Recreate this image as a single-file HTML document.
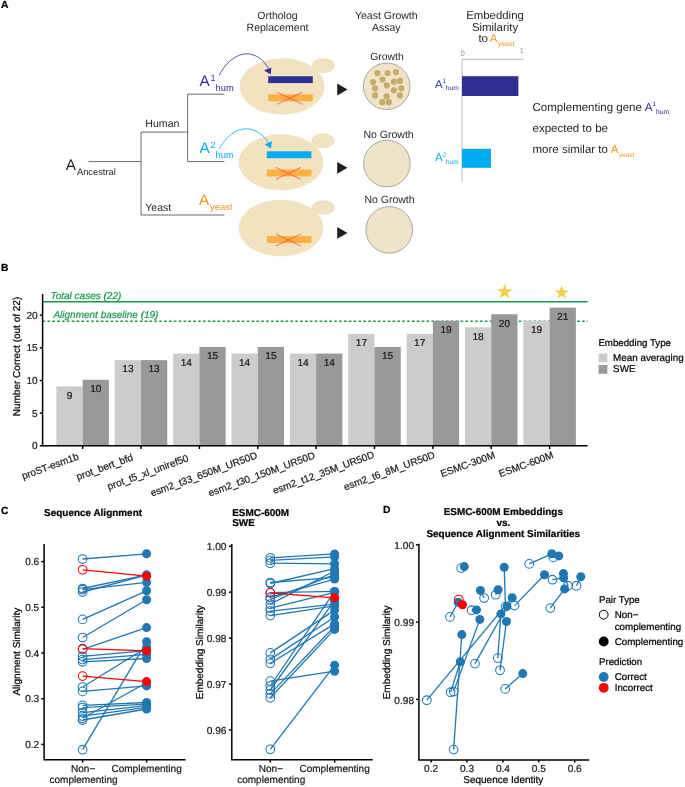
<!DOCTYPE html>
<html lang="en"><head><meta charset="utf-8"><title>Figure</title>
<style>html,body{margin:0;padding:0;background:#fff}svg{display:block}text{font-family:"Liberation Sans", sans-serif;text-rendering:geometricPrecision;stroke-width:0.22px}</style>
</head><body>
<svg width="685" height="787" viewBox="0 0 685 787">
<rect width="685" height="787" fill="#fff"/>
<text x="0.9" y="7.7" font-size="10.3" font-weight="bold" fill="#000" stroke="#000">A</text>
<text x="1.1" y="271.2" font-size="10.3" font-weight="bold" fill="#000" stroke="#000">B</text>
<text x="1.0" y="513.6" font-size="10.3" font-weight="bold" fill="#000" stroke="#000">C</text>
<text x="383.0" y="513.4" font-size="10.3" font-weight="bold" fill="#000" stroke="#000">D</text>
<g id="panelA">
<path d="M88.6 161.6H141M141 132.1V215M141 132.1H187.6M187.6 94.2V161.6M187.6 94.2H224.4M187.6 161.6H224.4M141 215H224.4" stroke="#58595b" stroke-width="0.9" fill="none"/>
<text x="65.8" y="169.5" font-size="15.3" fill="#231f20">A</text>
<text x="77" y="174.5" font-size="9.3" fill="#231f20">Ancestral</text>
<text x="145.3" y="127.4" font-size="10.6" fill="#231f20">Human</text>
<text x="145.3" y="211" font-size="10.5" fill="#231f20">Yeast</text>
<text x="199.6" y="86.3" font-size="15.3" fill="#2e3192">A</text>
<text x="210.6" y="81.2" font-size="9" fill="#2e3192">1</text>
<text x="215.6" y="91" font-size="9.3" fill="#2e3192">hum</text>
<text x="199.6" y="153.4" font-size="15.3" fill="#00aeef">A</text>
<text x="210.6" y="148.3" font-size="9" fill="#00aeef">2</text>
<text x="215.6" y="158" font-size="9.3" fill="#00aeef">hum</text>
<text x="199" y="205.4" font-size="15.3" fill="#f7941d">A</text>
<text x="210" y="210" font-size="9.5" fill="#f7941d">yeast</text>
<text x="277.5" y="19.3" font-size="10.5" text-anchor="middle" fill="#231f20">Ortholog</text>
<text x="277.5" y="31.2" font-size="10.5" text-anchor="middle" fill="#231f20">Replacement</text>
<text x="386.3" y="19.3" font-size="10.5" text-anchor="middle" fill="#231f20">Yeast Growth</text>
<text x="386.3" y="31.2" font-size="10.5" text-anchor="middle" fill="#231f20">Assay</text>
<text x="495.0" y="19.3" font-size="11.4" text-anchor="middle" fill="#231f20">Embedding</text>
<text x="495.0" y="31.2" font-size="11.4" text-anchor="middle" fill="#231f20">Similarity</text>
<text x="478.4" y="42.3" font-size="11.4" fill="#231f20">to</text>
<text x="489.8" y="42.3" font-size="11.4" fill="#f7941d">A</text>
<text x="497.7" y="46.1" font-size="7" fill="#f7941d">yeast</text>
<ellipse cx="323.7" cy="65.6" rx="11.5" ry="7.45" fill="#f2e3c0"/>
<ellipse cx="282.1" cy="86.5" rx="42.5" ry="28.2" fill="#f2e3c0"/>
<rect x="268.2" y="76.2" width="44.6" height="6.9" fill="#2e3192"/>
<rect x="268.2" y="94.4" width="44.6" height="6.9" fill="#fbb040"/>
<path d="M277.2 92.3L302.4 104.3M277.2 104.3L302.4 92.3" stroke="#ef4136" stroke-width="0.7" fill="none"/>
<ellipse cx="323.1" cy="140.7" rx="11.5" ry="7.45" fill="#f2e3c0"/>
<ellipse cx="281.0" cy="162.4" rx="42.4" ry="28.1" fill="#f2e3c0"/>
<rect x="266.8" y="151.3" width="44.6" height="6.9" fill="#00aeef"/>
<rect x="266.8" y="169.5" width="44.6" height="6.9" fill="#fbb040"/>
<path d="M275.8 167.4L301.0 179.4M275.8 179.4L301.0 167.4" stroke="#ef4136" stroke-width="0.7" fill="none"/>
<ellipse cx="323.1" cy="207.6" rx="11.5" ry="7.45" fill="#f2e3c0"/>
<ellipse cx="281.0" cy="228.1" rx="42.4" ry="28.4" fill="#f2e3c0"/>
<rect x="266.8" y="236.1" width="44.6" height="6.9" fill="#fbb040"/>
<path d="M275.8 234.0L301.0 246.0M275.8 246.0L301.0 234.0" stroke="#ef4136" stroke-width="0.7" fill="none"/>
<path d="M219.2 75.2C226 62 237 53.6 247 53.8C257 54 264.5 61 268.4 68.6" stroke="#2e3192" stroke-width="0.8" fill="none"/>
<path d="M270.8 74.5L264 70.6L271.3 67.5Z" fill="#2e3192"/>
<path d="M219.2 148.6C226 136.5 236.5 128.6 246.2 128.8C256.5 129 264.3 135.6 268.3 142.8" stroke="#00aeef" stroke-width="0.8" fill="none"/>
<path d="M270.9 148.6L264.8 144.5L271.9 141Z" fill="#00aeef"/>
<path d="M337.2 83.6L347.5 89.5L337.2 95.4Z" fill="#231f20"/>
<path d="M337.2 161.9L347.5 167.8L337.2 173.7Z" fill="#231f20"/>
<path d="M337.2 227.0L347.5 232.9L337.2 238.8Z" fill="#231f20"/>
<text x="387" y="59.8" font-size="10.4" text-anchor="middle" fill="#231f20">Growth</text>
<text x="388.6" y="137.7" font-size="10.5" text-anchor="middle" fill="#231f20">No Growth</text>
<text x="389.5" y="202.6" font-size="10.5" text-anchor="middle" fill="#231f20">No Growth</text>
<circle cx="386.7" cy="86.3" r="23.3" fill="#f0e3c7" stroke="#77787b" stroke-width="0.6"/>
<circle cx="386.9" cy="163.6" r="23.3" fill="#f0e3c7" stroke="#77787b" stroke-width="0.6"/>
<circle cx="389.2" cy="229.9" r="23.3" fill="#f0e3c7" stroke="#77787b" stroke-width="0.6"/>
<circle cx="377.4" cy="73.1" r="3.1" fill="#c4ac6e"/>
<circle cx="387.6" cy="73.0" r="3.1" fill="#c4ac6e"/>
<circle cx="396.0" cy="72.1" r="3.1" fill="#c4ac6e"/>
<circle cx="382.5" cy="79.5" r="3.1" fill="#c4ac6e"/>
<circle cx="373.1" cy="82.1" r="3.1" fill="#c4ac6e"/>
<circle cx="393.9" cy="81.7" r="3.1" fill="#c4ac6e"/>
<circle cx="399.9" cy="80.9" r="3.1" fill="#c4ac6e"/>
<circle cx="386.8" cy="85.4" r="3.1" fill="#c4ac6e"/>
<circle cx="375.0" cy="88.3" r="3.1" fill="#c4ac6e"/>
<circle cx="393.9" cy="90.3" r="3.1" fill="#c4ac6e"/>
<circle cx="401.3" cy="88.3" r="3.1" fill="#c4ac6e"/>
<circle cx="375.0" cy="95.4" r="3.1" fill="#c4ac6e"/>
<circle cx="386.6" cy="96.3" r="3.1" fill="#c4ac6e"/>
<circle cx="399.9" cy="95.4" r="3.1" fill="#c4ac6e"/>
<circle cx="382.2" cy="102.2" r="3.1" fill="#c4ac6e"/>
<circle cx="388.8" cy="102.2" r="3.1" fill="#c4ac6e"/>
<path d="M462 182.1V59.3H524" stroke="#a0a2a5" stroke-width="0.75" fill="none"/>
<text x="460.6" y="55.9" font-size="7.8" fill="#939598">0</text>
<text x="519.4" y="53.4" font-size="7.8" fill="#939598">1</text>
<rect x="462" y="76.2" width="56.4" height="19.8" fill="#2e3192"/>
<rect x="462" y="148.8" width="29" height="19" fill="#00aeef"/>
<text x="434.9" y="87.6" font-size="11.4" fill="#2e3192">A</text>
<text x="442.6" y="83.4" font-size="6.6" fill="#2e3192">1</text>
<text x="445.7" y="90" font-size="6.7" fill="#2e3192">hum</text>
<text x="434.9" y="161.1" font-size="11.4" fill="#00aeef">A</text>
<text x="442.6" y="156.9" font-size="6.6" fill="#00aeef">2</text>
<text x="445.7" y="164.3" font-size="6.7" fill="#00aeef">hum</text>
<text x="532.5" y="110.7" font-size="11.5" fill="#231f20">Complementing gene</text>
<text x="644.8" y="110.7" font-size="11.5" fill="#2e3192">A</text>
<text x="652.6" y="106.2" font-size="6.6" fill="#2e3192">1</text>
<text x="656" y="113.8" font-size="6.8" fill="#2e3192">hum</text>
<text x="532.5" y="131.9" font-size="11.5" fill="#231f20">expected to be</text>
<text x="532.5" y="152.9" font-size="11.5" fill="#231f20">more similar to</text>
<text x="610.8" y="152.9" font-size="11.5" fill="#f7941d">A</text>
<text x="618.7" y="156.9" font-size="6.6" fill="#f7941d">yeast</text>
</g>
<g id="panelB">
<path d="M42.6 301.7H587.6" stroke="#1a9a4c" stroke-width="1.5" fill="none"/>
<path d="M42.6 321.2H587.6" stroke="#1a9a4c" stroke-width="1.5" stroke-dasharray="2.6 2.26" fill="none"/>
<rect x="56.40" y="386.37" width="26.25" height="59.43" fill="#cccccc"/>
<text x="69.5" y="398.7" font-size="10.1" text-anchor="middle" fill="#1a1a1a" stroke="#1a1a1a">9</text>
<rect x="82.65" y="379.81" width="26.25" height="65.99" fill="#999999"/>
<text x="95.8" y="392.1" font-size="10.1" text-anchor="middle" fill="#1a1a1a" stroke="#1a1a1a">10</text>
<rect x="114.77" y="360.13" width="26.25" height="85.67" fill="#cccccc"/>
<text x="127.9" y="372.4" font-size="10.1" text-anchor="middle" fill="#1a1a1a" stroke="#1a1a1a">13</text>
<rect x="141.02" y="360.13" width="26.25" height="85.67" fill="#999999"/>
<text x="154.1" y="372.4" font-size="10.1" text-anchor="middle" fill="#1a1a1a" stroke="#1a1a1a">13</text>
<rect x="173.14" y="353.57" width="26.25" height="92.23" fill="#cccccc"/>
<text x="186.3" y="365.9" font-size="10.1" text-anchor="middle" fill="#1a1a1a" stroke="#1a1a1a">14</text>
<rect x="199.39" y="347.01" width="26.25" height="98.79" fill="#999999"/>
<text x="212.5" y="359.3" font-size="10.1" text-anchor="middle" fill="#1a1a1a" stroke="#1a1a1a">15</text>
<rect x="231.51" y="353.57" width="26.25" height="92.23" fill="#cccccc"/>
<text x="244.6" y="365.9" font-size="10.1" text-anchor="middle" fill="#1a1a1a" stroke="#1a1a1a">14</text>
<rect x="257.76" y="347.01" width="26.25" height="98.79" fill="#999999"/>
<text x="270.9" y="359.3" font-size="10.1" text-anchor="middle" fill="#1a1a1a" stroke="#1a1a1a">15</text>
<rect x="289.88" y="353.57" width="26.25" height="92.23" fill="#cccccc"/>
<text x="303.0" y="365.9" font-size="10.1" text-anchor="middle" fill="#1a1a1a" stroke="#1a1a1a">14</text>
<rect x="316.13" y="353.57" width="26.25" height="92.23" fill="#999999"/>
<text x="329.3" y="365.9" font-size="10.1" text-anchor="middle" fill="#1a1a1a" stroke="#1a1a1a">14</text>
<rect x="348.25" y="333.90" width="26.25" height="111.90" fill="#cccccc"/>
<text x="361.4" y="346.2" font-size="10.1" text-anchor="middle" fill="#1a1a1a" stroke="#1a1a1a">17</text>
<rect x="374.50" y="347.01" width="26.25" height="98.79" fill="#999999"/>
<text x="387.6" y="359.3" font-size="10.1" text-anchor="middle" fill="#1a1a1a" stroke="#1a1a1a">15</text>
<rect x="406.62" y="333.90" width="26.25" height="111.90" fill="#cccccc"/>
<text x="419.7" y="346.2" font-size="10.1" text-anchor="middle" fill="#1a1a1a" stroke="#1a1a1a">17</text>
<rect x="432.87" y="320.78" width="26.25" height="125.02" fill="#999999"/>
<text x="446.0" y="333.1" font-size="10.1" text-anchor="middle" fill="#1a1a1a" stroke="#1a1a1a">19</text>
<rect x="464.99" y="327.34" width="26.25" height="118.46" fill="#cccccc"/>
<text x="478.1" y="339.6" font-size="10.1" text-anchor="middle" fill="#1a1a1a" stroke="#1a1a1a">18</text>
<rect x="491.24" y="314.22" width="26.25" height="131.58" fill="#999999"/>
<text x="504.4" y="326.5" font-size="10.1" text-anchor="middle" fill="#1a1a1a" stroke="#1a1a1a">20</text>
<rect x="523.36" y="320.78" width="26.25" height="125.02" fill="#cccccc"/>
<text x="536.5" y="333.1" font-size="10.1" text-anchor="middle" fill="#1a1a1a" stroke="#1a1a1a">19</text>
<rect x="549.61" y="307.66" width="26.25" height="138.14" fill="#999999"/>
<text x="562.7" y="320.0" font-size="10.1" text-anchor="middle" fill="#1a1a1a" stroke="#1a1a1a">21</text>
<text x="50.5" y="298.6" font-size="10" font-style="italic" fill="#1a9a4c" stroke="#1a9a4c">Total cases (22)</text>
<text x="53.4" y="317.6" font-size="10" font-style="italic" fill="#1a9a4c" stroke="#1a9a4c">Alignment baseline (19)</text>
<path d="M42.6 294V445.8H587.6" stroke="#000" stroke-width="1.5" fill="none"/>
<path d="M39.8 445.8H42.6" stroke="#000" stroke-width="1.5"/>
<text x="37.7" y="449.4" font-size="10.1" text-anchor="end" fill="#1a1a1a" stroke="#1a1a1a">0</text>
<path d="M39.8 413.1H42.6" stroke="#000" stroke-width="1.5"/>
<text x="37.7" y="416.7" font-size="10.1" text-anchor="end" fill="#1a1a1a" stroke="#1a1a1a">5</text>
<path d="M39.8 380.5H42.6" stroke="#000" stroke-width="1.5"/>
<text x="37.7" y="384.1" font-size="10.1" text-anchor="end" fill="#1a1a1a" stroke="#1a1a1a">10</text>
<path d="M39.8 347.8H42.6" stroke="#000" stroke-width="1.5"/>
<text x="37.7" y="351.4" font-size="10.1" text-anchor="end" fill="#1a1a1a" stroke="#1a1a1a">15</text>
<path d="M39.8 315.1H42.6" stroke="#000" stroke-width="1.5"/>
<text x="37.7" y="318.7" font-size="10.1" text-anchor="end" fill="#1a1a1a" stroke="#1a1a1a">20</text>
<path d="M82.7 445.8V449" stroke="#000" stroke-width="1.5"/>
<text transform="translate(77.1 452.3) rotate(-20)" x="0" y="7.2" font-size="10" text-anchor="end" fill="#1a1a1a" stroke="#1a1a1a">proST-esm1b</text>
<path d="M141.0 445.8V449" stroke="#000" stroke-width="1.5"/>
<text transform="translate(131.3 453.2) rotate(-20)" x="0" y="7.2" font-size="10" text-anchor="end" fill="#1a1a1a" stroke="#1a1a1a">prot_bert_bfd</text>
<path d="M199.4 445.8V449" stroke="#000" stroke-width="1.5"/>
<text transform="translate(186.8 454.0) rotate(-20)" x="0" y="7.2" font-size="10" text-anchor="end" fill="#1a1a1a" stroke="#1a1a1a">prot_t5_xl_uniref50</text>
<path d="M257.8 445.8V449" stroke="#000" stroke-width="1.5"/>
<text transform="translate(255.5 451.2) rotate(-20)" x="0" y="7.2" font-size="10" text-anchor="end" fill="#1a1a1a" stroke="#1a1a1a">esm2_t33_650M_UR50D</text>
<path d="M316.1 445.8V449" stroke="#000" stroke-width="1.5"/>
<text transform="translate(313.3 451.2) rotate(-20)" x="0" y="7.2" font-size="10" text-anchor="end" fill="#1a1a1a" stroke="#1a1a1a">esm2_t30_150M_UR50D</text>
<path d="M374.5 445.8V449" stroke="#000" stroke-width="1.5"/>
<text transform="translate(372.6 450.6) rotate(-20)" x="0" y="7.2" font-size="10" text-anchor="end" fill="#1a1a1a" stroke="#1a1a1a">esm2_t12_35M_UR50D</text>
<path d="M432.9 445.8V449" stroke="#000" stroke-width="1.5"/>
<text transform="translate(433.2 450.8) rotate(-20)" x="0" y="7.2" font-size="10" text-anchor="end" fill="#1a1a1a" stroke="#1a1a1a">esm2_t6_8M_UR50D</text>
<path d="M491.2 445.8V449" stroke="#000" stroke-width="1.5"/>
<text transform="translate(493.3 451.0) rotate(-20)" x="0" y="7.2" font-size="10" text-anchor="end" fill="#1a1a1a" stroke="#1a1a1a">ESMC-300M</text>
<path d="M549.6 445.8V449" stroke="#000" stroke-width="1.5"/>
<text transform="translate(551.7 451.0) rotate(-20)" x="0" y="7.2" font-size="10" text-anchor="end" fill="#1a1a1a" stroke="#1a1a1a">ESMC-600M</text>
<text transform="translate(19.6 356.5) rotate(-90)" font-size="10" text-anchor="middle" fill="#000" stroke="#000">Number Correct (out of 22)</text>
<polygon points="504.70,283.60 506.63,289.15 512.50,289.27 507.82,292.81 509.52,298.43 504.70,295.08 499.88,298.43 501.58,292.81 496.90,289.27 502.77,289.15" fill="#f5d04f"/>
<polygon points="561.70,285.20 563.46,290.27 568.83,290.38 564.55,293.63 566.11,298.77 561.70,295.70 557.29,298.77 558.85,293.63 554.57,290.38 559.94,290.27" fill="#f5d04f"/>
<text x="598.4" y="346.2" font-size="9.7" fill="#000" stroke="#000">Embedding Type</text>
<rect x="598.6" y="353.5" width="8.8" height="8.8" fill="#cccccc"/>
<rect x="598.6" y="365.0" width="8.8" height="8.8" fill="#999999"/>
<text x="613.1" y="360.8" font-size="9.85" fill="#000" stroke="#000">Mean averaging</text>
<text x="613.1" y="372" font-size="9.85" fill="#000" stroke="#000">SWE</text>
</g>
<g id="panelC1">
<text x="44.1" y="515.5" font-size="9.95" font-weight="bold" fill="#000" stroke="#000">Sequence Alignment</text>
<path d="M82.6 559.0L146.6 553.8" stroke="#1f77b4" stroke-width="1.3" fill="none"/>
<path d="M82.6 588.5L146.6 574.9" stroke="#1f77b4" stroke-width="1.3" fill="none"/>
<path d="M82.6 589.7L146.6 582.4" stroke="#1f77b4" stroke-width="1.3" fill="none"/>
<path d="M82.6 592.0L146.6 575.1" stroke="#1f77b4" stroke-width="1.3" fill="none"/>
<path d="M82.6 619.4L146.6 590.8" stroke="#1f77b4" stroke-width="1.3" fill="none"/>
<path d="M82.6 637.5L146.6 599.8" stroke="#1f77b4" stroke-width="1.3" fill="none"/>
<path d="M82.6 649.3L146.6 627.6" stroke="#1f77b4" stroke-width="1.3" fill="none"/>
<path d="M82.6 656.3L146.6 650.7" stroke="#1f77b4" stroke-width="1.3" fill="none"/>
<path d="M82.6 659.6L146.6 654.4" stroke="#1f77b4" stroke-width="1.3" fill="none"/>
<path d="M82.6 661.8L146.6 658.5" stroke="#1f77b4" stroke-width="1.3" fill="none"/>
<path d="M82.6 687.0L146.6 647.5" stroke="#1f77b4" stroke-width="1.3" fill="none"/>
<path d="M82.6 691.4L146.6 685.9" stroke="#1f77b4" stroke-width="1.3" fill="none"/>
<path d="M82.6 749.7L146.6 641.8" stroke="#1f77b4" stroke-width="1.3" fill="none"/>
<path d="M82.6 718.3L146.6 682.7" stroke="#1f77b4" stroke-width="1.3" fill="none"/>
<path d="M82.6 705.4L146.6 702.5" stroke="#1f77b4" stroke-width="1.3" fill="none"/>
<path d="M82.6 707.6L146.6 704.2" stroke="#1f77b4" stroke-width="1.3" fill="none"/>
<path d="M82.6 712.6L146.6 705.6" stroke="#1f77b4" stroke-width="1.3" fill="none"/>
<path d="M82.6 716.1L146.6 707.4" stroke="#1f77b4" stroke-width="1.3" fill="none"/>
<path d="M82.6 720.0L146.6 709.0" stroke="#1f77b4" stroke-width="1.3" fill="none"/>
<circle cx="82.6" cy="559.0" r="4.35" fill="none" stroke="#1f77b4" stroke-width="1.05"/>
<circle cx="146.6" cy="553.8" r="4.5" fill="#1f77b4"/>
<circle cx="82.6" cy="588.5" r="4.35" fill="none" stroke="#1f77b4" stroke-width="1.05"/>
<circle cx="146.6" cy="574.9" r="4.5" fill="#1f77b4"/>
<circle cx="82.6" cy="589.7" r="4.35" fill="none" stroke="#1f77b4" stroke-width="1.05"/>
<circle cx="146.6" cy="582.4" r="4.5" fill="#1f77b4"/>
<circle cx="82.6" cy="592.0" r="4.35" fill="none" stroke="#1f77b4" stroke-width="1.05"/>
<circle cx="146.6" cy="575.1" r="4.5" fill="#1f77b4"/>
<circle cx="82.6" cy="619.4" r="4.35" fill="none" stroke="#1f77b4" stroke-width="1.05"/>
<circle cx="146.6" cy="590.8" r="4.5" fill="#1f77b4"/>
<circle cx="82.6" cy="637.5" r="4.35" fill="none" stroke="#1f77b4" stroke-width="1.05"/>
<circle cx="146.6" cy="599.8" r="4.5" fill="#1f77b4"/>
<circle cx="82.6" cy="649.3" r="4.35" fill="none" stroke="#1f77b4" stroke-width="1.05"/>
<circle cx="146.6" cy="627.6" r="4.5" fill="#1f77b4"/>
<circle cx="82.6" cy="656.3" r="4.35" fill="none" stroke="#1f77b4" stroke-width="1.05"/>
<circle cx="146.6" cy="650.7" r="4.5" fill="#1f77b4"/>
<circle cx="82.6" cy="659.6" r="4.35" fill="none" stroke="#1f77b4" stroke-width="1.05"/>
<circle cx="146.6" cy="654.4" r="4.5" fill="#1f77b4"/>
<circle cx="82.6" cy="661.8" r="4.35" fill="none" stroke="#1f77b4" stroke-width="1.05"/>
<circle cx="146.6" cy="658.5" r="4.5" fill="#1f77b4"/>
<circle cx="82.6" cy="687.0" r="4.35" fill="none" stroke="#1f77b4" stroke-width="1.05"/>
<circle cx="146.6" cy="647.5" r="4.5" fill="#1f77b4"/>
<circle cx="82.6" cy="691.4" r="4.35" fill="none" stroke="#1f77b4" stroke-width="1.05"/>
<circle cx="146.6" cy="685.9" r="4.5" fill="#1f77b4"/>
<circle cx="82.6" cy="749.7" r="4.35" fill="none" stroke="#1f77b4" stroke-width="1.05"/>
<circle cx="146.6" cy="641.8" r="4.5" fill="#1f77b4"/>
<circle cx="82.6" cy="718.3" r="4.35" fill="none" stroke="#1f77b4" stroke-width="1.05"/>
<circle cx="146.6" cy="682.7" r="4.5" fill="#1f77b4"/>
<circle cx="82.6" cy="705.4" r="4.35" fill="none" stroke="#1f77b4" stroke-width="1.05"/>
<circle cx="146.6" cy="702.5" r="4.5" fill="#1f77b4"/>
<circle cx="82.6" cy="707.6" r="4.35" fill="none" stroke="#1f77b4" stroke-width="1.05"/>
<circle cx="146.6" cy="704.2" r="4.5" fill="#1f77b4"/>
<circle cx="82.6" cy="712.6" r="4.35" fill="none" stroke="#1f77b4" stroke-width="1.05"/>
<circle cx="146.6" cy="705.6" r="4.5" fill="#1f77b4"/>
<circle cx="82.6" cy="716.1" r="4.35" fill="none" stroke="#1f77b4" stroke-width="1.05"/>
<circle cx="146.6" cy="707.4" r="4.5" fill="#1f77b4"/>
<circle cx="82.6" cy="720.0" r="4.35" fill="none" stroke="#1f77b4" stroke-width="1.05"/>
<circle cx="146.6" cy="709.0" r="4.5" fill="#1f77b4"/>
<path d="M82.6 569.8L146.6 576.2" stroke="#ff0000" stroke-width="1.3" fill="none"/>
<path d="M82.6 648.7L146.6 650.9" stroke="#ff0000" stroke-width="1.3" fill="none"/>
<path d="M82.6 676.1L146.6 681.6" stroke="#ff0000" stroke-width="1.3" fill="none"/>
<circle cx="82.6" cy="569.8" r="4.35" fill="none" stroke="#ff0000" stroke-width="1.05"/>
<circle cx="146.6" cy="576.2" r="4.5" fill="#ff0000"/>
<circle cx="82.6" cy="648.7" r="4.35" fill="none" stroke="#ff0000" stroke-width="1.05"/>
<circle cx="146.6" cy="650.9" r="4.5" fill="#ff0000"/>
<circle cx="82.6" cy="676.1" r="4.35" fill="none" stroke="#ff0000" stroke-width="1.05"/>
<circle cx="146.6" cy="681.6" r="4.5" fill="#ff0000"/>
<path d="M44.1 544V759.8H185.6" stroke="#000" stroke-width="1.5" fill="none"/>
<path d="M41.3 744.4H44.1" stroke="#000" stroke-width="1.5"/>
<text x="39.2" y="748.0" font-size="10.1" text-anchor="end" fill="#1a1a1a" stroke="#1a1a1a">0.2</text>
<path d="M41.3 698.7H44.1" stroke="#000" stroke-width="1.5"/>
<text x="39.2" y="702.3" font-size="10.1" text-anchor="end" fill="#1a1a1a" stroke="#1a1a1a">0.3</text>
<path d="M41.3 653.0H44.1" stroke="#000" stroke-width="1.5"/>
<text x="39.2" y="656.6" font-size="10.1" text-anchor="end" fill="#1a1a1a" stroke="#1a1a1a">0.4</text>
<path d="M41.3 607.3H44.1" stroke="#000" stroke-width="1.5"/>
<text x="39.2" y="610.9" font-size="10.1" text-anchor="end" fill="#1a1a1a" stroke="#1a1a1a">0.5</text>
<path d="M41.3 561.6H44.1" stroke="#000" stroke-width="1.5"/>
<text x="39.2" y="565.2" font-size="10.1" text-anchor="end" fill="#1a1a1a" stroke="#1a1a1a">0.6</text>
<path d="M82.6 759.8V762.6" stroke="#000" stroke-width="1.5"/>
<path d="M146.6 759.8V762.6" stroke="#000" stroke-width="1.5"/>
<text x="83.19999999999999" y="771.8" font-size="10.05" text-anchor="middle" fill="#1a1a1a" stroke="#1a1a1a">Non−</text>
<text x="83.5" y="783.0" font-size="10.05" text-anchor="middle" fill="#1a1a1a" stroke="#1a1a1a">complementing</text>
<text x="146.6" y="771.8" font-size="10.05" text-anchor="middle" fill="#1a1a1a" stroke="#1a1a1a">Complementing</text>
<text transform="translate(20.3 651.7) rotate(-90)" font-size="10" text-anchor="middle" fill="#000" stroke="#000">Alignment Similarity</text>
</g>
<g id="panelC2">
<text x="232.2" y="515.5" font-size="9.95" font-weight="bold" fill="#000" stroke="#000">ESMC-600M</text>
<text x="232.2" y="526.3" font-size="9.95" font-weight="bold" fill="#000" stroke="#000">SWE</text>
<path d="M270.3 557.8L334.6 553.9" stroke="#1f77b4" stroke-width="1.3" fill="none"/>
<path d="M270.3 560.4L334.6 556.8" stroke="#1f77b4" stroke-width="1.3" fill="none"/>
<path d="M270.3 563.2L334.6 563.8" stroke="#1f77b4" stroke-width="1.3" fill="none"/>
<path d="M270.3 583.5L334.6 568.7" stroke="#1f77b4" stroke-width="1.3" fill="none"/>
<path d="M270.3 582.5L334.6 577.4" stroke="#1f77b4" stroke-width="1.3" fill="none"/>
<path d="M270.3 592.6L334.6 591.4" stroke="#1f77b4" stroke-width="1.3" fill="none"/>
<path d="M270.3 597.2L334.6 579.1" stroke="#1f77b4" stroke-width="1.3" fill="none"/>
<path d="M270.3 599.3L334.6 574.7" stroke="#1f77b4" stroke-width="1.3" fill="none"/>
<path d="M270.3 604.2L334.6 571.0" stroke="#1f77b4" stroke-width="1.3" fill="none"/>
<path d="M270.3 608.1L334.6 592.4" stroke="#1f77b4" stroke-width="1.3" fill="none"/>
<path d="M270.3 611.1L334.6 604.2" stroke="#1f77b4" stroke-width="1.3" fill="none"/>
<path d="M270.3 615.6L334.6 605.9" stroke="#1f77b4" stroke-width="1.3" fill="none"/>
<path d="M270.3 652.9L334.6 610.1" stroke="#1f77b4" stroke-width="1.3" fill="none"/>
<path d="M270.3 659.4L334.6 617.0" stroke="#1f77b4" stroke-width="1.3" fill="none"/>
<path d="M270.3 663.3L334.6 623.9" stroke="#1f77b4" stroke-width="1.3" fill="none"/>
<path d="M270.3 681.1L334.6 671.2" stroke="#1f77b4" stroke-width="1.3" fill="none"/>
<path d="M270.3 686.0L334.6 591.4" stroke="#1f77b4" stroke-width="1.3" fill="none"/>
<path d="M270.3 690.0L334.6 600.4" stroke="#1f77b4" stroke-width="1.3" fill="none"/>
<path d="M270.3 693.9L334.6 626.2" stroke="#1f77b4" stroke-width="1.3" fill="none"/>
<path d="M270.3 697.8L334.6 629.4" stroke="#1f77b4" stroke-width="1.3" fill="none"/>
<path d="M270.3 749.3L334.6 665.3" stroke="#1f77b4" stroke-width="1.3" fill="none"/>
<circle cx="270.3" cy="557.8" r="4.35" fill="none" stroke="#1f77b4" stroke-width="1.05"/>
<circle cx="334.6" cy="553.9" r="4.5" fill="#1f77b4"/>
<circle cx="270.3" cy="560.4" r="4.35" fill="none" stroke="#1f77b4" stroke-width="1.05"/>
<circle cx="334.6" cy="556.8" r="4.5" fill="#1f77b4"/>
<circle cx="270.3" cy="563.2" r="4.35" fill="none" stroke="#1f77b4" stroke-width="1.05"/>
<circle cx="334.6" cy="563.8" r="4.5" fill="#1f77b4"/>
<circle cx="270.3" cy="583.5" r="4.35" fill="none" stroke="#1f77b4" stroke-width="1.05"/>
<circle cx="334.6" cy="568.7" r="4.5" fill="#1f77b4"/>
<circle cx="270.3" cy="582.5" r="4.35" fill="none" stroke="#1f77b4" stroke-width="1.05"/>
<circle cx="334.6" cy="577.4" r="4.5" fill="#1f77b4"/>
<circle cx="270.3" cy="592.6" r="4.35" fill="none" stroke="#1f77b4" stroke-width="1.05"/>
<circle cx="334.6" cy="591.4" r="4.5" fill="#1f77b4"/>
<circle cx="270.3" cy="597.2" r="4.35" fill="none" stroke="#1f77b4" stroke-width="1.05"/>
<circle cx="334.6" cy="579.1" r="4.5" fill="#1f77b4"/>
<circle cx="270.3" cy="599.3" r="4.35" fill="none" stroke="#1f77b4" stroke-width="1.05"/>
<circle cx="334.6" cy="574.7" r="4.5" fill="#1f77b4"/>
<circle cx="270.3" cy="604.2" r="4.35" fill="none" stroke="#1f77b4" stroke-width="1.05"/>
<circle cx="334.6" cy="571.0" r="4.5" fill="#1f77b4"/>
<circle cx="270.3" cy="608.1" r="4.35" fill="none" stroke="#1f77b4" stroke-width="1.05"/>
<circle cx="334.6" cy="592.4" r="4.5" fill="#1f77b4"/>
<circle cx="270.3" cy="611.1" r="4.35" fill="none" stroke="#1f77b4" stroke-width="1.05"/>
<circle cx="334.6" cy="604.2" r="4.5" fill="#1f77b4"/>
<circle cx="270.3" cy="615.6" r="4.35" fill="none" stroke="#1f77b4" stroke-width="1.05"/>
<circle cx="334.6" cy="605.9" r="4.5" fill="#1f77b4"/>
<circle cx="270.3" cy="652.9" r="4.35" fill="none" stroke="#1f77b4" stroke-width="1.05"/>
<circle cx="334.6" cy="610.1" r="4.5" fill="#1f77b4"/>
<circle cx="270.3" cy="659.4" r="4.35" fill="none" stroke="#1f77b4" stroke-width="1.05"/>
<circle cx="334.6" cy="617.0" r="4.5" fill="#1f77b4"/>
<circle cx="270.3" cy="663.3" r="4.35" fill="none" stroke="#1f77b4" stroke-width="1.05"/>
<circle cx="334.6" cy="623.9" r="4.5" fill="#1f77b4"/>
<circle cx="270.3" cy="681.1" r="4.35" fill="none" stroke="#1f77b4" stroke-width="1.05"/>
<circle cx="334.6" cy="671.2" r="4.5" fill="#1f77b4"/>
<circle cx="270.3" cy="686.0" r="4.35" fill="none" stroke="#1f77b4" stroke-width="1.05"/>
<circle cx="334.6" cy="591.4" r="4.5" fill="#1f77b4"/>
<circle cx="270.3" cy="690.0" r="4.35" fill="none" stroke="#1f77b4" stroke-width="1.05"/>
<circle cx="334.6" cy="600.4" r="4.5" fill="#1f77b4"/>
<circle cx="270.3" cy="693.9" r="4.35" fill="none" stroke="#1f77b4" stroke-width="1.05"/>
<circle cx="334.6" cy="626.2" r="4.5" fill="#1f77b4"/>
<circle cx="270.3" cy="697.8" r="4.35" fill="none" stroke="#1f77b4" stroke-width="1.05"/>
<circle cx="334.6" cy="629.4" r="4.5" fill="#1f77b4"/>
<circle cx="270.3" cy="749.3" r="4.35" fill="none" stroke="#1f77b4" stroke-width="1.05"/>
<circle cx="334.6" cy="665.3" r="4.5" fill="#1f77b4"/>
<path d="M270.3 592.9L334.6 597.8" stroke="#ff0000" stroke-width="1.3" fill="none"/>
<circle cx="270.3" cy="592.9" r="4.35" fill="none" stroke="#ff0000" stroke-width="1.05"/>
<circle cx="334.6" cy="597.8" r="4.5" fill="#ff0000"/>
<path d="M231.8 544V759.8H372.8" stroke="#000" stroke-width="1.5" fill="none"/>
<path d="M229.0 730.0H231.8" stroke="#000" stroke-width="1.5"/>
<text x="226.4" y="733.6" font-size="10.1" text-anchor="end" fill="#1a1a1a" stroke="#1a1a1a">0.96</text>
<path d="M229.0 684.1H231.8" stroke="#000" stroke-width="1.5"/>
<text x="226.4" y="687.7" font-size="10.1" text-anchor="end" fill="#1a1a1a" stroke="#1a1a1a">0.97</text>
<path d="M229.0 638.1H231.8" stroke="#000" stroke-width="1.5"/>
<text x="226.4" y="641.7" font-size="10.1" text-anchor="end" fill="#1a1a1a" stroke="#1a1a1a">0.98</text>
<path d="M229.0 592.2H231.8" stroke="#000" stroke-width="1.5"/>
<text x="226.4" y="595.8" font-size="10.1" text-anchor="end" fill="#1a1a1a" stroke="#1a1a1a">0.99</text>
<path d="M229.0 546.2H231.8" stroke="#000" stroke-width="1.5"/>
<text x="226.4" y="549.8" font-size="10.1" text-anchor="end" fill="#1a1a1a" stroke="#1a1a1a">1.00</text>
<path d="M270.3 759.8V762.6" stroke="#000" stroke-width="1.5"/>
<path d="M334.6 759.8V762.6" stroke="#000" stroke-width="1.5"/>
<text x="270.90000000000003" y="771.8" font-size="10.05" text-anchor="middle" fill="#1a1a1a" stroke="#1a1a1a">Non−</text>
<text x="271.2" y="783.0" font-size="10.05" text-anchor="middle" fill="#1a1a1a" stroke="#1a1a1a">complementing</text>
<text x="334.6" y="771.8" font-size="10.05" text-anchor="middle" fill="#1a1a1a" stroke="#1a1a1a">Complementing</text>
<text transform="translate(202.8 652.3) rotate(-90)" font-size="10" text-anchor="middle" fill="#000" stroke="#000">Embedding Similarity</text>
</g>
<g id="panelD">
<text x="503.3" y="515.0" font-size="9.95" text-anchor="middle" fill="#000" stroke="#000" font-weight="bold">ESMC-600M Embeddings</text>
<text x="503.3" y="526.0" font-size="9.95" text-anchor="middle" fill="#000" stroke="#000" font-weight="bold">vs.</text>
<text x="503.3" y="536.9" font-size="9.95" text-anchor="middle" fill="#000" stroke="#000" font-weight="bold">Sequence Alignment Similarities</text>
<path d="M426.8 700.2L512.2 597.7" stroke="#1f77b4" stroke-width="1.3" fill="none"/>
<path d="M450.6 692.2L460.3 661.7" stroke="#1f77b4" stroke-width="1.3" fill="none"/>
<path d="M453.6 691.6L479.8 619.4" stroke="#1f77b4" stroke-width="1.3" fill="none"/>
<path d="M453.6 749.6L461.8 634.6" stroke="#1f77b4" stroke-width="1.3" fill="none"/>
<path d="M450.0 616.9L458.2 602.3" stroke="#1f77b4" stroke-width="1.3" fill="none"/>
<path d="M461.2 568.1L464.3 566.6" stroke="#1f77b4" stroke-width="1.3" fill="none"/>
<path d="M471.6 610.2L476.5 609.9" stroke="#1f77b4" stroke-width="1.3" fill="none"/>
<path d="M475.0 663.6L507.0 606.2" stroke="#1f77b4" stroke-width="1.3" fill="none"/>
<path d="M484.1 598.0L480.4 590.4" stroke="#1f77b4" stroke-width="1.3" fill="none"/>
<path d="M495.7 594.7L498.1 589.8" stroke="#1f77b4" stroke-width="1.3" fill="none"/>
<path d="M497.8 658.1L500.9 613.9" stroke="#1f77b4" stroke-width="1.3" fill="none"/>
<path d="M500.0 670.3L506.4 621.5" stroke="#1f77b4" stroke-width="1.3" fill="none"/>
<path d="M505.2 688.9L522.8 673.6" stroke="#1f77b4" stroke-width="1.3" fill="none"/>
<path d="M505.5 606.9L504.2 567.2" stroke="#1f77b4" stroke-width="1.3" fill="none"/>
<path d="M514.6 605.6L544.5 574.8" stroke="#1f77b4" stroke-width="1.3" fill="none"/>
<path d="M529.2 563.9L551.8 553.8" stroke="#1f77b4" stroke-width="1.3" fill="none"/>
<path d="M550.3 608.1L564.6 588.9" stroke="#1f77b4" stroke-width="1.3" fill="none"/>
<path d="M552.4 579.7L563.7 577.9" stroke="#1f77b4" stroke-width="1.3" fill="none"/>
<path d="M553.3 557.4L558.8 555.9" stroke="#1f77b4" stroke-width="1.3" fill="none"/>
<path d="M568.0 585.8L563.4 573.6" stroke="#1f77b4" stroke-width="1.3" fill="none"/>
<path d="M576.5 585.8L580.8 576.7" stroke="#1f77b4" stroke-width="1.3" fill="none"/>
<circle cx="426.8" cy="700.2" r="4.35" fill="none" stroke="#1f77b4" stroke-width="1.05"/>
<circle cx="450.6" cy="692.2" r="4.35" fill="none" stroke="#1f77b4" stroke-width="1.05"/>
<circle cx="453.6" cy="691.6" r="4.35" fill="none" stroke="#1f77b4" stroke-width="1.05"/>
<circle cx="453.6" cy="749.6" r="4.35" fill="none" stroke="#1f77b4" stroke-width="1.05"/>
<circle cx="450.0" cy="616.9" r="4.35" fill="none" stroke="#1f77b4" stroke-width="1.05"/>
<circle cx="461.2" cy="568.1" r="4.35" fill="none" stroke="#1f77b4" stroke-width="1.05"/>
<circle cx="471.6" cy="610.2" r="4.35" fill="none" stroke="#1f77b4" stroke-width="1.05"/>
<circle cx="475.0" cy="663.6" r="4.35" fill="none" stroke="#1f77b4" stroke-width="1.05"/>
<circle cx="484.1" cy="598.0" r="4.35" fill="none" stroke="#1f77b4" stroke-width="1.05"/>
<circle cx="495.7" cy="594.7" r="4.35" fill="none" stroke="#1f77b4" stroke-width="1.05"/>
<circle cx="497.8" cy="658.1" r="4.35" fill="none" stroke="#1f77b4" stroke-width="1.05"/>
<circle cx="500.0" cy="670.3" r="4.35" fill="none" stroke="#1f77b4" stroke-width="1.05"/>
<circle cx="505.2" cy="688.9" r="4.35" fill="none" stroke="#1f77b4" stroke-width="1.05"/>
<circle cx="505.5" cy="606.9" r="4.35" fill="none" stroke="#1f77b4" stroke-width="1.05"/>
<circle cx="514.6" cy="605.6" r="4.35" fill="none" stroke="#1f77b4" stroke-width="1.05"/>
<circle cx="529.2" cy="563.9" r="4.35" fill="none" stroke="#1f77b4" stroke-width="1.05"/>
<circle cx="550.3" cy="608.1" r="4.35" fill="none" stroke="#1f77b4" stroke-width="1.05"/>
<circle cx="552.4" cy="579.7" r="4.35" fill="none" stroke="#1f77b4" stroke-width="1.05"/>
<circle cx="553.3" cy="557.4" r="4.35" fill="none" stroke="#1f77b4" stroke-width="1.05"/>
<circle cx="568.0" cy="585.8" r="4.35" fill="none" stroke="#1f77b4" stroke-width="1.05"/>
<circle cx="576.5" cy="585.8" r="4.35" fill="none" stroke="#1f77b4" stroke-width="1.05"/>
<circle cx="512.2" cy="597.7" r="4.5" fill="#1f77b4"/>
<circle cx="460.3" cy="661.7" r="4.5" fill="#1f77b4"/>
<circle cx="479.8" cy="619.4" r="4.5" fill="#1f77b4"/>
<circle cx="461.8" cy="634.6" r="4.5" fill="#1f77b4"/>
<circle cx="458.2" cy="602.3" r="4.5" fill="#1f77b4"/>
<circle cx="464.3" cy="566.6" r="4.5" fill="#1f77b4"/>
<circle cx="476.5" cy="609.9" r="4.5" fill="#1f77b4"/>
<circle cx="507.0" cy="606.2" r="4.5" fill="#1f77b4"/>
<circle cx="480.4" cy="590.4" r="4.5" fill="#1f77b4"/>
<circle cx="498.1" cy="589.8" r="4.5" fill="#1f77b4"/>
<circle cx="500.9" cy="613.9" r="4.5" fill="#1f77b4"/>
<circle cx="506.4" cy="621.5" r="4.5" fill="#1f77b4"/>
<circle cx="522.8" cy="673.6" r="4.5" fill="#1f77b4"/>
<circle cx="504.2" cy="567.2" r="4.5" fill="#1f77b4"/>
<circle cx="544.5" cy="574.8" r="4.5" fill="#1f77b4"/>
<circle cx="551.8" cy="553.8" r="4.5" fill="#1f77b4"/>
<circle cx="564.6" cy="588.9" r="4.5" fill="#1f77b4"/>
<circle cx="563.7" cy="577.9" r="4.5" fill="#1f77b4"/>
<circle cx="558.8" cy="555.9" r="4.5" fill="#1f77b4"/>
<circle cx="563.4" cy="573.6" r="4.5" fill="#1f77b4"/>
<circle cx="580.8" cy="576.7" r="4.5" fill="#1f77b4"/>
<path d="M458.8 599.5L462.5 604.7" stroke="#ff0000" stroke-width="1.3" fill="none"/>
<circle cx="458.8" cy="599.5" r="4.35" fill="none" stroke="#ff0000" stroke-width="1.05"/>
<circle cx="462.5" cy="604.7" r="4.5" fill="#ff0000"/>
<path d="M418.9 543.8V759.9H589.2" stroke="#000" stroke-width="1.5" fill="none"/>
<path d="M416.1 699.4H418.9" stroke="#000" stroke-width="1.5"/>
<text x="414.0" y="703.6" font-size="10.1" text-anchor="end" fill="#1a1a1a" stroke="#1a1a1a">0.98</text>
<path d="M416.1 622.1H418.9" stroke="#000" stroke-width="1.5"/>
<text x="414.0" y="626.3" font-size="10.1" text-anchor="end" fill="#1a1a1a" stroke="#1a1a1a">0.99</text>
<path d="M416.1 544.8H418.9" stroke="#000" stroke-width="1.5"/>
<text x="414.0" y="549.0" font-size="10.1" text-anchor="end" fill="#1a1a1a" stroke="#1a1a1a">1.00</text>
<path d="M431.1 759.9V762.6" stroke="#000" stroke-width="1.5"/>
<text x="431.1" y="772.1" font-size="10.1" text-anchor="middle" fill="#1a1a1a" stroke="#1a1a1a">0.2</text>
<path d="M467.0 759.9V762.6" stroke="#000" stroke-width="1.5"/>
<text x="467.0" y="772.1" font-size="10.1" text-anchor="middle" fill="#1a1a1a" stroke="#1a1a1a">0.3</text>
<path d="M502.9 759.9V762.6" stroke="#000" stroke-width="1.5"/>
<text x="502.9" y="772.1" font-size="10.1" text-anchor="middle" fill="#1a1a1a" stroke="#1a1a1a">0.4</text>
<path d="M538.8 759.9V762.6" stroke="#000" stroke-width="1.5"/>
<text x="538.8" y="772.1" font-size="10.1" text-anchor="middle" fill="#1a1a1a" stroke="#1a1a1a">0.5</text>
<path d="M574.7 759.9V762.6" stroke="#000" stroke-width="1.5"/>
<text x="574.7" y="772.1" font-size="10.1" text-anchor="middle" fill="#1a1a1a" stroke="#1a1a1a">0.6</text>
<text x="503.3" y="783.3" font-size="10" text-anchor="middle" fill="#000" stroke="#000">Sequence Identity</text>
<text transform="translate(390.3 652.4) rotate(-90)" font-size="10" text-anchor="middle" fill="#000" stroke="#000">Embedding Similarity</text>
<text x="599" y="602.6" font-size="9.7" fill="#000" stroke="#000">Pair Type</text>
<circle cx="603.7" cy="614.7" r="4.4" fill="#fff" stroke="#000" stroke-width="1.0"/>
<text x="614.7" y="618.3" font-size="9.8" fill="#000" stroke="#000">Non−</text>
<text x="614.7" y="629.6" font-size="9.8" fill="#000" stroke="#000">complementing</text>
<circle cx="603.7" cy="641.5" r="4.9" fill="#000"/>
<text x="614.7" y="644.8" font-size="9.8" fill="#000" stroke="#000">Complementing</text>
<text x="599" y="664.6" font-size="9.7" fill="#000" stroke="#000">Prediction</text>
<circle cx="603.7" cy="677" r="4.9" fill="#1f77b4"/>
<text x="614.7" y="680.3" font-size="9.8" fill="#000" stroke="#000">Correct</text>
<circle cx="603.7" cy="687.8" r="4.9" fill="#ff0000"/>
<text x="614.7" y="691" font-size="9.8" fill="#000" stroke="#000">Incorrect</text>
</g>
</svg></body></html>
